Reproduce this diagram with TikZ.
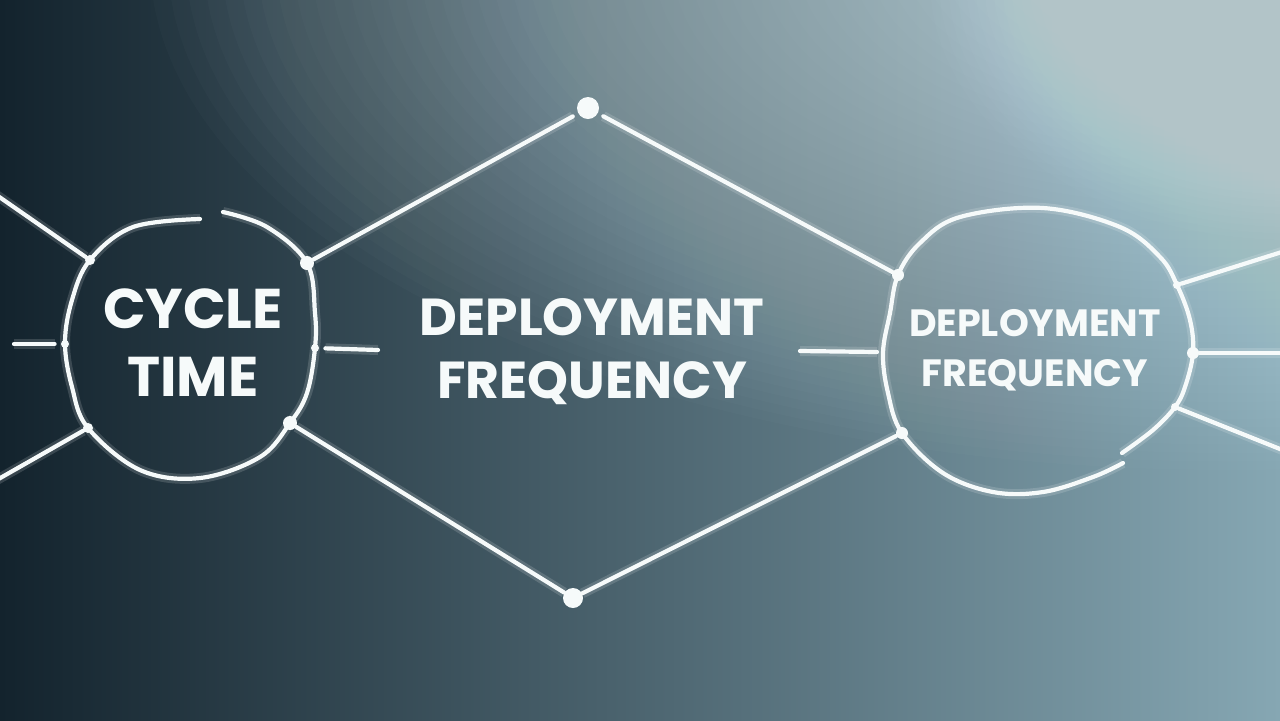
\documentclass[tikz,border=0pt]{standalone}
\usepackage{fontspec}
\setmainfont{Poppins}
\usepackage{tikz}
\usetikzlibrary{calc,positioning}
\definecolor{bgleft}{HTML}{13232D}
\definecolor{bgmid}{HTML}{3D5F6D}
\definecolor{bgright}{HTML}{86A7B3}
\definecolor{glowcol}{HTML}{DCEEF2}
\definecolor{chalk}{HTML}{F6FAFA}
\tikzset{% chalk look of the sketch
	chalk line/.style={draw=chalk, line width=2.1pt, line cap=round,
		preaction={draw=white, opacity=.15, line width=5pt}},
	knot/.style={circle, fill=chalk, inner sep=0pt, minimum size=#1},
	knot/.default=6pt,
	label text/.style={text=chalk, align=center}
}

\begin{document}
\begin{tikzpicture}[x=0.5pt,y=-0.5pt]
\useasboundingbox (0,0) rectangle (1280,720);
\shade[left color=bgleft, middle color=bgmid, right color=bgright] (0,0) rectangle (1280,720);
% soft light in the upper right corner
\begin{scope}
	\clip (0,0) rectangle (1280,720);
	\foreach \r in {1,...,60}
		\fill[glowcol, opacity=.02] (1230,-40) ellipse ({18*\r} and {8.5*\r});
	\foreach \r in {1,...,40}
		\fill[glowcol, opacity=.025] (1290,-20) ellipse ({9*\r} and {6.5*\r});
\end{scope}

% left circle
\draw[chalk line] plot[smooth, tension=.6] coordinates {(223,212) (267,227) (307,263) (315,313) (315,348) (307,393) (290,423) (260,457) (200,478) (140,470) (88,428) (72,387) (65,343) (72,300) (90,260) (133,227) (200,219)};
% right circle
\draw[chalk line] plot[smooth, tension=.6] coordinates {(1123,463) (1093,477) (1043,492) (993,492) (943,473) (902,433) (888,393) (883,353) (890,313) (898,275) (920,243) (960,217) (1043,208) (1120,227) (1160,257) (1177,285) (1190,320) (1193,353) (1185,387) (1175,407) (1153,430) (1122,453)};

\node[label text, font=\bfseries\fontsize{28}{34}\selectfont] (cycle) at (193,343) {CYCLE\\TIME};
\node[label text, font=\bfseries\fontsize{26}{31.5}\selectfont] (deploy) at (592,352) {DEPLOYMENT\\FREQUENCY};
\node[label text, font=\bfseries\fontsize{19}{25}\selectfont] (freq) at (1035,350) {DEPLOYMENT\\FREQUENCY};

% knots
\node[knot=5pt] (cl-ul) at (90,260) {};
\node[knot=7pt] (cl-ur) at (307,263) {};
\node[knot=4pt] (cl-ml) at (65,344) {};
\node[knot=4pt] (cl-mr) at (315,348) {};
\node[knot=5pt] (cl-ll) at (88,428) {};
\node[knot=7pt] (cl-lr) at (290,423) {};
\node[knot=11pt] (top) at (588,108) {};
\node[knot=10pt] (bot) at (573,598) {};
\node[knot=6pt] (fr-ul) at (898,275) {};
\node[knot=6pt] (fr-ll) at (902,433) {};
\node[knot=4pt] (fr-ur) at (1177,285) {};
\node[knot=6pt] (fr-mr) at (1193,353) {};
\node[knot=4pt] (fr-lr) at (1175,407) {};

% free ends
\coordinate (e-ul) at (-5,194);
\coordinate (e-ml) at (14,344);
\coordinate (e-mr) at (378,350);
\coordinate (e-ll) at (-5,481);
\coordinate (f-ml) at (800,351);
\coordinate (f-mi) at (877,352);
\coordinate (f-ur) at (1285,251);
\coordinate (f-mr) at (1285,353);
\coordinate (f-lr) at (1285,451);

\draw[chalk line] (e-ul) -- (cl-ul);
\draw[chalk line, shorten >=3pt] (e-ml) -- (cl-ml);
\draw[chalk line, shorten <=3pt] (cl-mr) -- (e-mr);
\draw[chalk line] (e-ll) -- (cl-ll);
\draw[chalk line, shorten >=3pt] (cl-ur) -- (top);
\draw[chalk line, shorten <=3pt] (top) -- (fr-ul);
\draw[chalk line] (cl-lr) -- (bot);
\draw[chalk line] (bot) -- (fr-ll);
\draw[chalk line] (f-ml) -- (f-mi);
\draw[chalk line] (fr-ur) -- (f-ur);
\draw[chalk line] (fr-mr) -- (f-mr);
\draw[chalk line] (fr-lr) -- (f-lr);
\end{tikzpicture}
\end{document}
